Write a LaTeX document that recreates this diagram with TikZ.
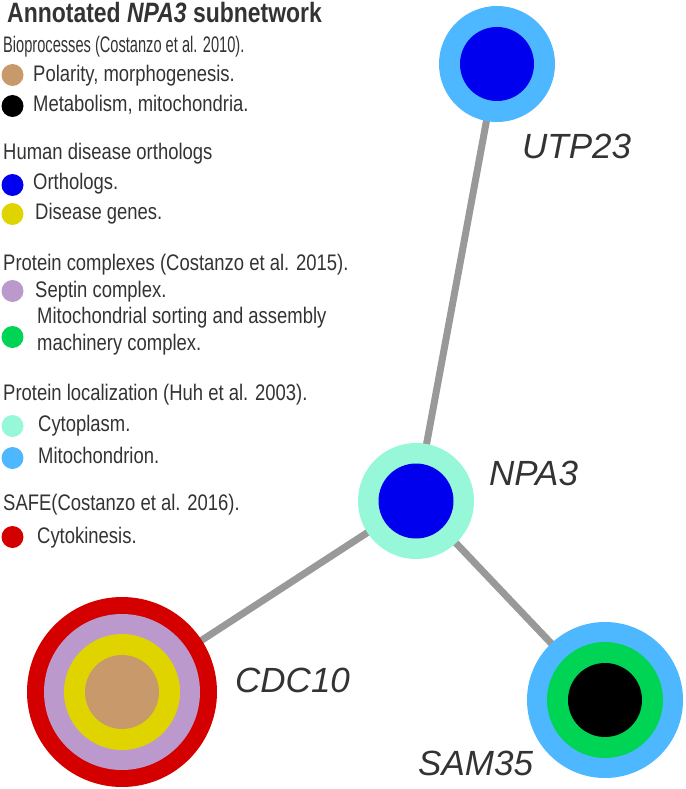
\documentclass[tikz,border=0pt]{standalone}
\usepackage{fontspec}
\setmainfont{Liberation Sans}
\newfontfamily\narrowfont[FakeStretch=0.82]{Liberation Sans}
\newfontfamily\narrowerfont[FakeStretch=0.65]{Liberation Sans}
\definecolor{txtgray}{HTML}{333333}
\definecolor{edgegray}{HTML}{999999}
\definecolor{tan}{HTML}{C89A6B}
\definecolor{orthoblue}{HTML}{0000EE}
\definecolor{disyellow}{HTML}{E0D400}
\definecolor{septin}{HTML}{BB99CC}
\definecolor{samgreen}{HTML}{00D455}
\definecolor{mint}{HTML}{96F8D8}
\definecolor{mitoblue}{HTML}{4DB8FF}
\definecolor{cytored}{HTML}{D40000}
\pgfdeclarelayer{bg}
\pgfsetlayers{bg,main}
\begin{document}
\begin{tikzpicture}[x=1pt,y=-1pt,
  ring/.style={circle, inner sep=0pt, draw=none, minimum size=#1},
  dot/.style={circle, inner sep=0pt, draw=none, minimum size=22pt},
  legtext/.style={anchor=base west, inner sep=0pt, text=txtgray, font=\narrowfont\fontsize{22.5}{27}\selectfont},
  gene/.style={anchor=base west, inner sep=0pt, text=txtgray, font=\itshape\fontsize{35}{40}\selectfont},
  edge/.style={line width=7pt, draw=edgegray}]
\useasboundingbox (0,0) rectangle (685,789);

% title and legend
\node[anchor=base west, inner sep=0pt, text=txtgray, font=\narrowfont\bfseries\fontsize{28}{32}\selectfont] (title) at (7,23) {Annotated \textit{NPA3} subnetwork};

\node[anchor=base west, inner sep=0pt, text=txtgray, font=\narrowerfont\fontsize{22.5}{27}\selectfont] (h1) at (3,53) {Bioprocesses (Costanzo et al. 2010).};
\node[dot, fill=tan] (d1) at (12.5,75) {};
\node[legtext] (t1) at (33,82) {Polarity, morphogenesis.};
\node[dot, fill=black] (d2) at (12.5,106) {};
\node[legtext] (t2) at (33,111) {Metabolism, mitochondria.};

\node[legtext] (h2) at (3,159) {Human disease orthologs};
\node[dot, fill=orthoblue] (d3) at (12.5,185) {};
\node[legtext] (t3) at (33,189) {Orthologs.};
\node[dot, fill=disyellow] (d4) at (12.5,214) {};
\node[legtext] (t4) at (35,219) {Disease genes.};

\node[legtext] (h3) at (3,270) {Protein complexes (Costanzo et al. 2015).};
\node[dot, fill=septin] (d5) at (12.5,291) {};
\node[legtext] (t5) at (35,297) {Septin complex.};
\node[dot, fill=samgreen] (d6) at (12.5,337) {};
\node[legtext, align=left, anchor=north west] (t6) at (37,307) {Mitochondrial sorting and assembly\\[-0.5pt]machinery complex.};

\node[legtext] (h4) at (3,400) {Protein localization (Huh et al. 2003).};
\node[dot, fill=mint] (d7) at (12.5,426) {};
\node[legtext] (t7) at (38,431) {Cytoplasm.};
\node[dot, fill=mitoblue] (d8) at (12.5,458) {};
\node[legtext] (t8) at (38,463) {Mitochondrion.};

\node[legtext] (h5) at (3,510) {SAFE(Costanzo et al. 2016).};
\node[dot, fill=cytored] (d9) at (12.5,537) {};
\node[legtext] (t9) at (37,543) {Cytokinesis.};

% network nodes
\node[ring=116pt, fill=mitoblue] (utp) at (497,64) {};
\node[ring=74pt, fill=orthoblue] (utpin) at (utp.center) {};

\node[ring=116pt, fill=mint] (npa) at (416,501) {};
\node[ring=75pt, fill=orthoblue] (npain) at (npa.center) {};

\node[ring=190pt, fill=cytored] (cdc) at (122,692) {};
\node[ring=156pt, fill=septin] (cdcb) at (cdc.center) {};
\node[ring=116pt, fill=disyellow] (cdcc) at (cdc.center) {};
\node[ring=74pt, fill=tan] (cdcd) at (cdc.center) {};

\node[ring=156pt, fill=mitoblue] (sam) at (605,700) {};
\node[ring=116pt, fill=samgreen] (samb) at (sam.center) {};
\node[ring=74pt, fill=black] (samc) at (sam.center) {};

% edges
\begin{pgfonlayer}{bg}
\draw[edge] (utp.center) -- (npa.center);
\draw[edge] (npa.center) -- (cdc.center);
\draw[edge] (npa.center) -- (sam.center);
\end{pgfonlayer}

% gene labels
\node[gene] (lutp) at (522,158) {UTP23};
\node[gene] (lnpa) at (489,485) {NPA3};
\node[gene] (lcdc) at (235,692) {CDC10};
\node[gene] (lsam) at (418,775) {SAM35};
\end{tikzpicture}
\end{document}
